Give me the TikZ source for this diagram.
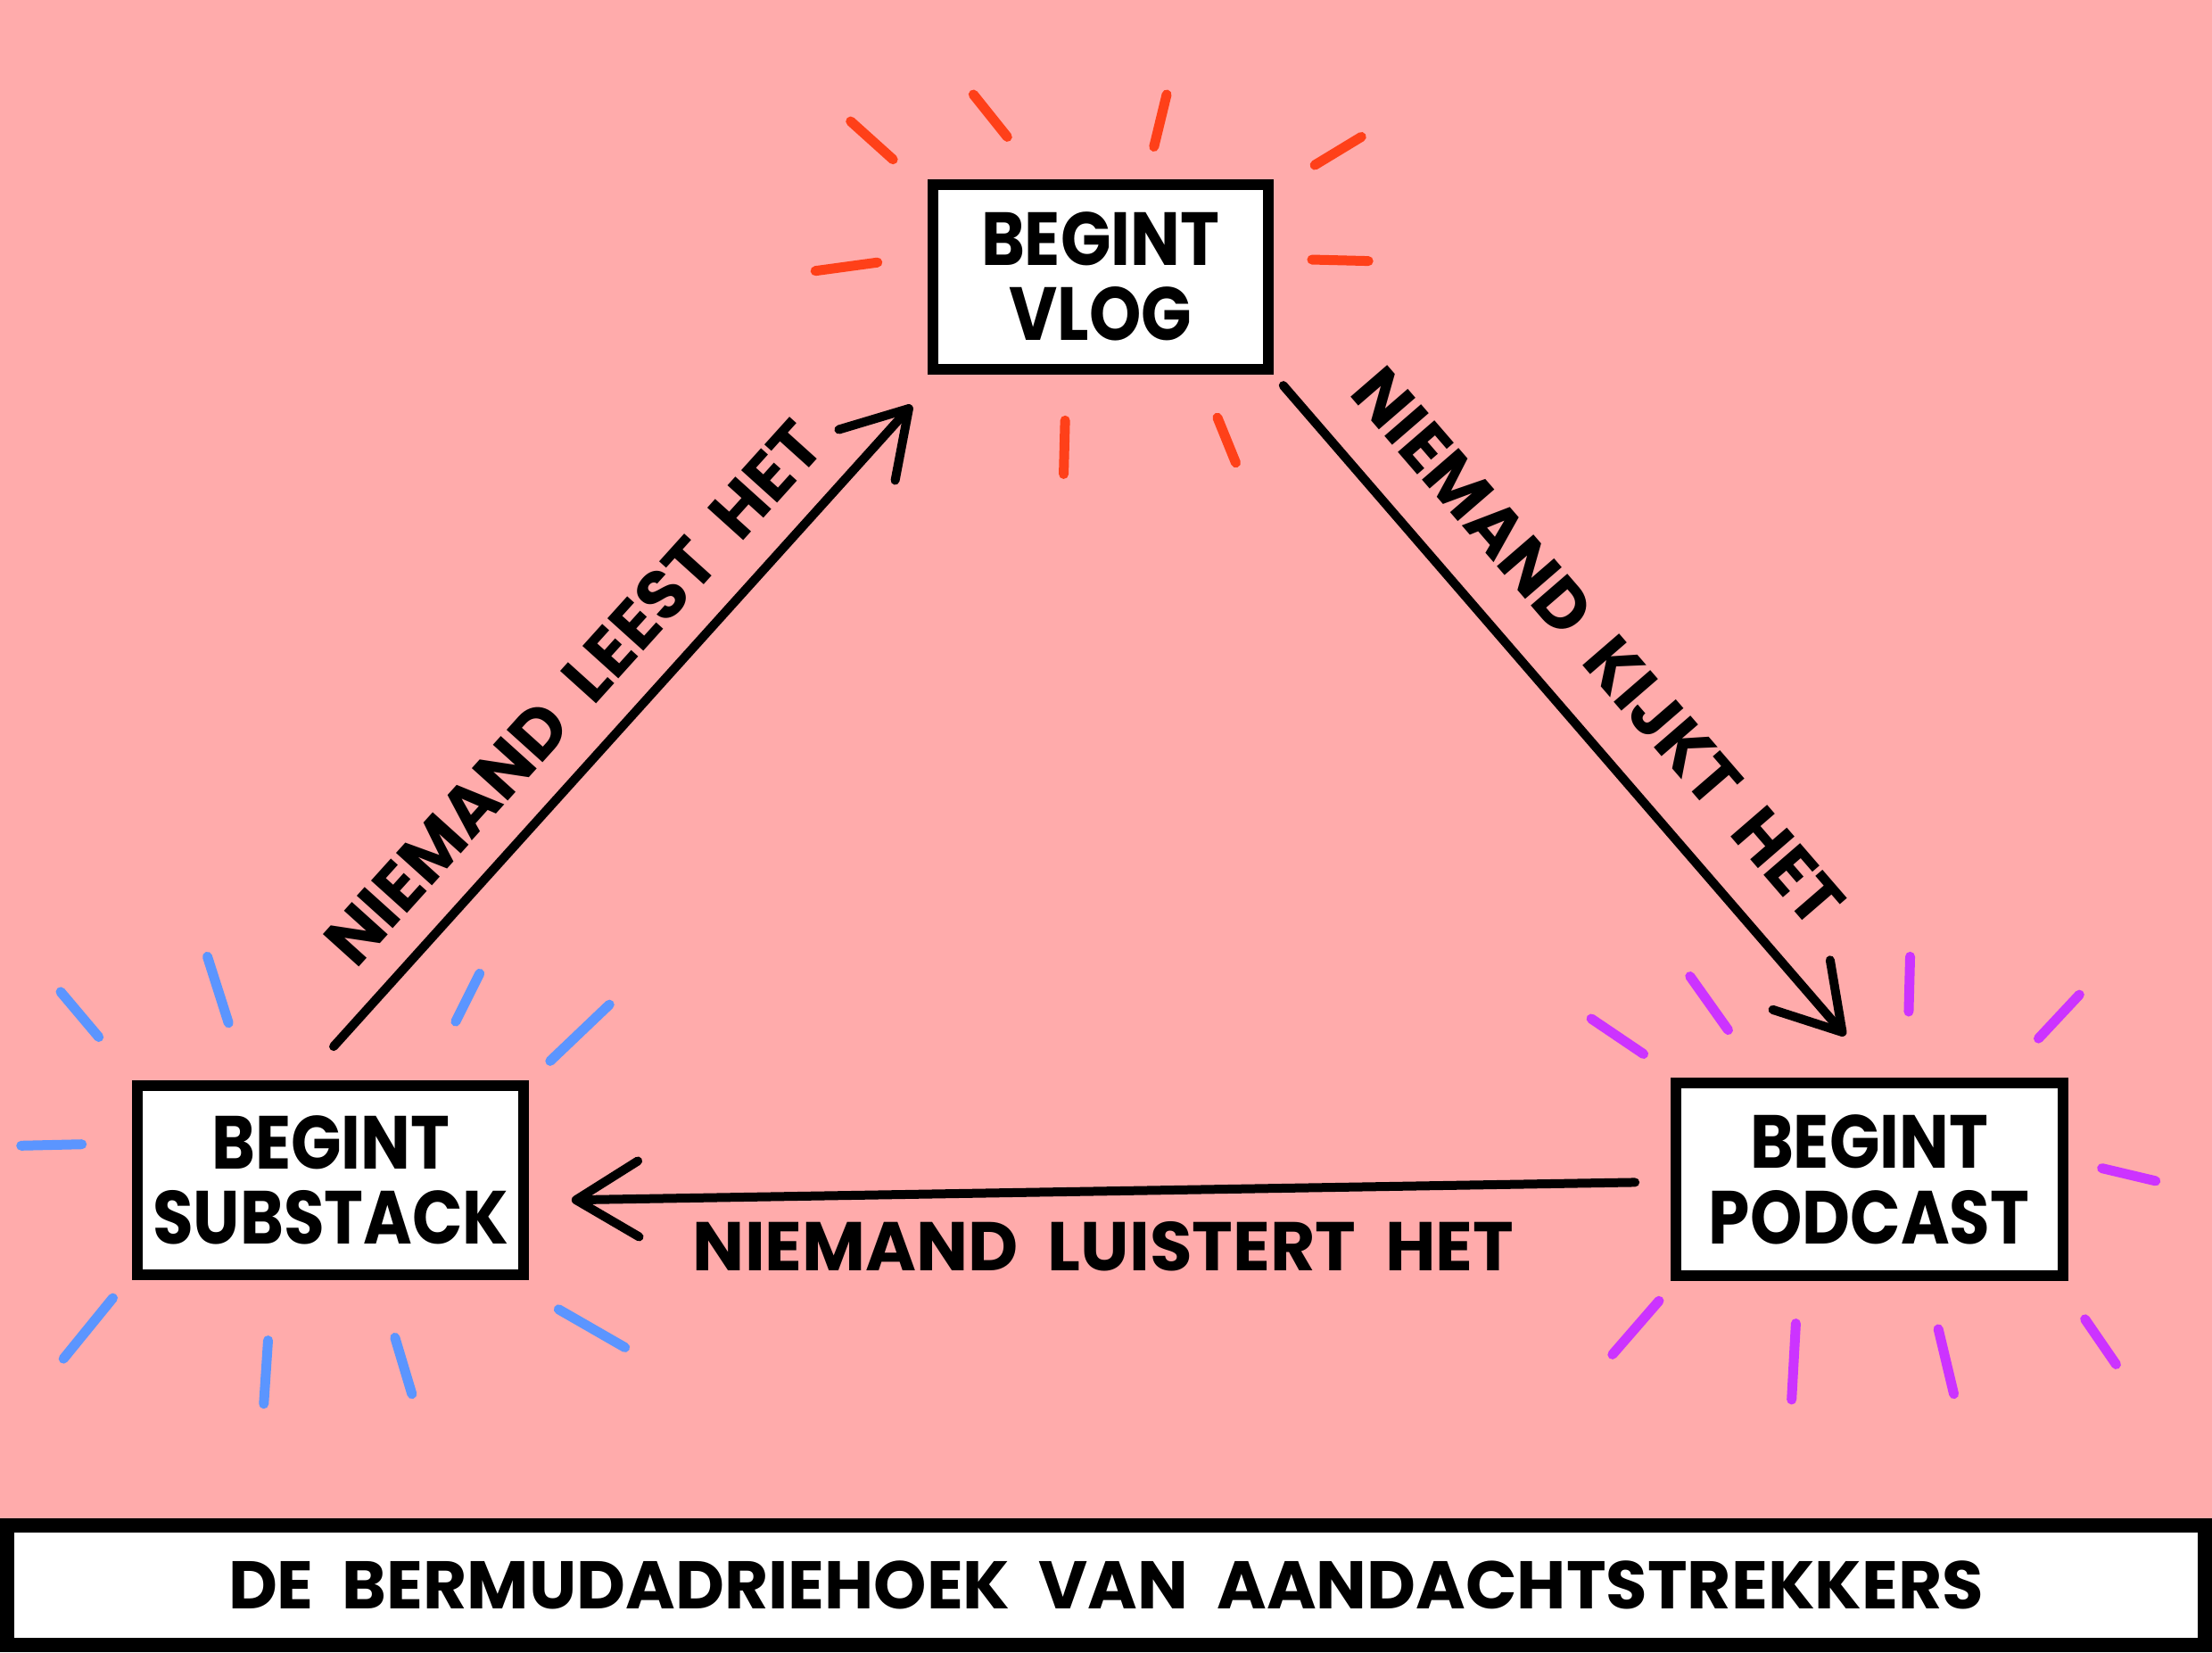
\documentclass[tikz,border=0pt]{standalone}
\usepackage{fontspec}
\setmainfont{Poppins}
\newfontfamily\narrowfont{Poppins}[FakeStretch=0.88]
\usepackage{tikz}
\usetikzlibrary{arrows.meta, positioning}
\definecolor{BgPink}{HTML}{FFABAB}
\definecolor{VlogRed}{HTML}{FF4019}
\definecolor{SubBlue}{HTML}{5B95FF}
\definecolor{PodPurple}{HTML}{CC33FF}

\begin{document}
\begin{tikzpicture}[x=0.15816mm, y=-0.15816mm, align=center,
  box/.style={draw, fill=white, line width=1.2mm, font=\narrowfont\fontsize{24}{24}\selectfont\bfseries, inner sep=0pt},
  arr/.style={line width=1mm, line cap=round, -{Straight Barb[round, length=7mm, width=8.5mm]}},
  lbl/.style={font=\fontsize{22}{22}\selectfont\bfseries, inner sep=0pt},
  ray/.style={line width=1.1mm, line cap=round}]
  \useasboundingbox (0,0) rectangle (1568,1171);
  \fill[BgPink] (0,0) rectangle (1568,1171);

  % the three boxes
  \node (vlog) [box, minimum width=37.6mm, minimum height=20.7mm] at (780,196) {BEGINT\\VLOG};
  \node (substack) [box, minimum width=43.3mm, minimum height=21.2mm] at (234.5,836.5) {BEGINT\\SUBSTACK};
  \node (podcast) [box, minimum width=43.4mm, minimum height=21.6mm] at (1325,836) {BEGINT\\PODCAST};

  % rays
  \foreach \a/\b/\c/\d in {603/86/633/113, 690/67/714/97, 827/67/818/104, 932/117/965/97,
      578/192/622/186, 930/184/970/185, 755/298/754/336, 863/296/876/328}
    \draw[ray, VlogRed] (\a,\b) -- (\c,\d);
  \foreach \a/\b/\c/\d in {43/703/70/735, 147/678/162/725, 340/690/323/724, 432/712/390/752,
      15/812/58/811, 80/920/45/963, 190/950/187/995, 280/948/292/988, 396/928/443/955}
    \draw[ray, SubBlue] (\a,\b) -- (\c,\d);
  \foreach \a/\b/\c/\d in {1128/722/1165/747, 1198/692/1225/730, 1354/678/1353/717, 1474/705/1445/736,
      1490/828/1528/837, 1176/922/1143/960, 1273/938/1270/992, 1374/942/1385/988, 1478/935/1500/967}
    \draw[ray, PodPurple] (\a,\b) -- (\c,\d);

  % the triangle
  \draw[arr] ([shift={(2,-24)}]substack.north) -- ([shift={(-11,22)}]vlog.south west)
    node[pos=0.49, sloped, above=3.3mm, lbl] {NIEMAND\ \ LEEST\ \ HET};
  \draw[arr] ([shift={(7,8)}]vlog.south east) -- ([shift={(-17,-30)}]podcast.north)
    node[pos=0.47, sloped, above=4.3mm, lbl] {NIEMAND\ \ KIJKT\ \ HET};
  \draw[arr] ([shift={(-25,2)}]podcast.west) -- ([shift={(30,14)}]substack.east)
    node[midway, below=2.9mm, lbl] {NIEMAND\ \ LUISTERT\ \ HET};

  \node (title) [draw, fill=white, line width=1.6mm, minimum width=246.4mm, minimum height=13.4mm,
    font=\fontsize{21.5}{22}\selectfont\bfseries, inner sep=0pt] at (784,1123.5) {DE\ \ BERMUDADRIEHOEK\ \ VAN\ \ AANDACHTSTREKKERS};
\end{tikzpicture}
\end{document}
